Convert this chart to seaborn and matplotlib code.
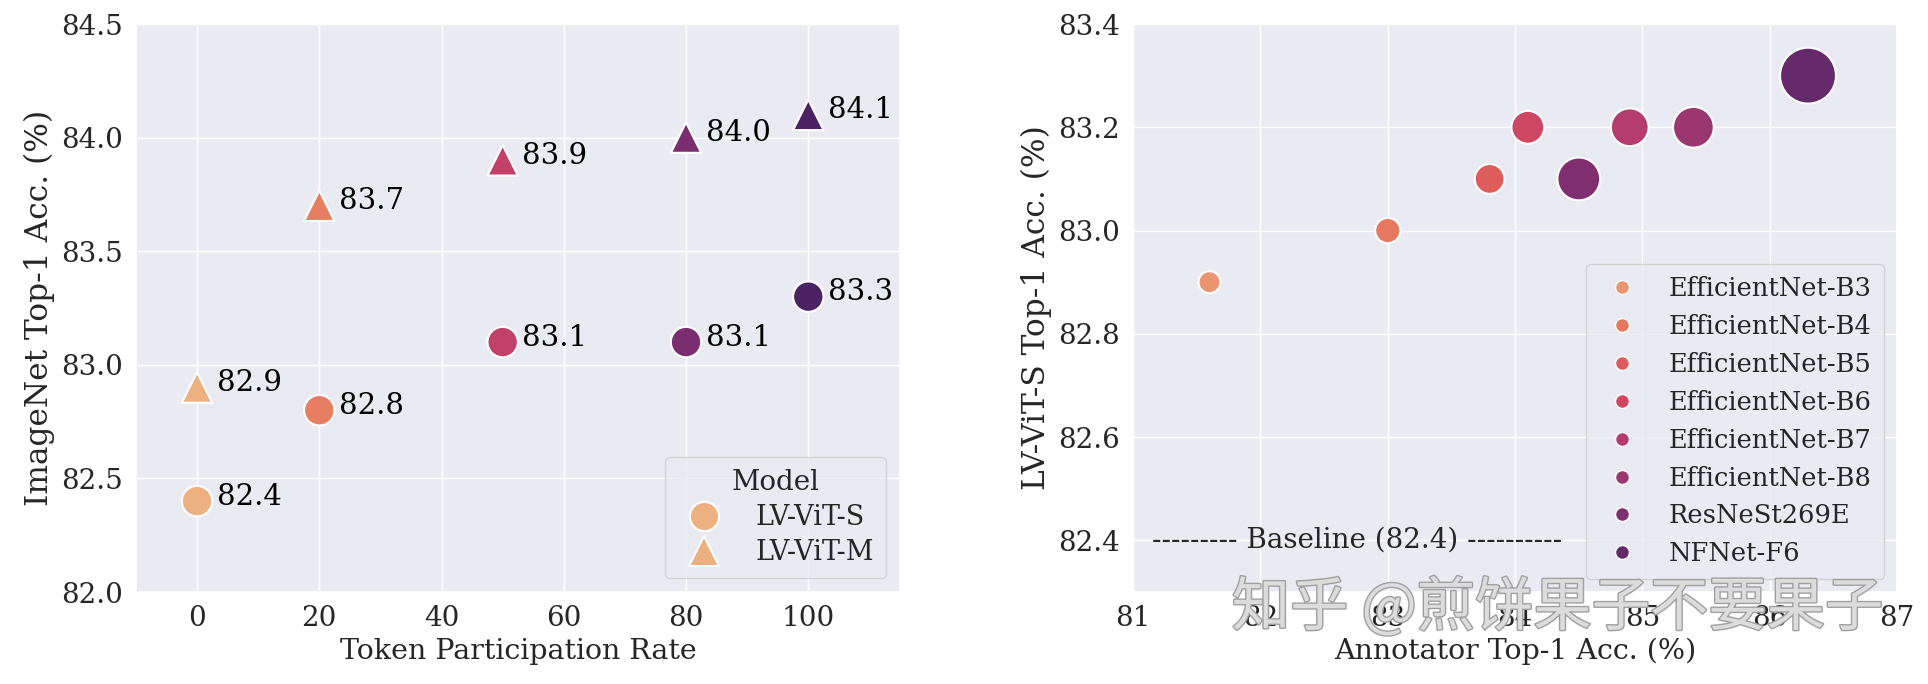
import numpy as np
import pandas as pd
import matplotlib
matplotlib.use("Agg")
import matplotlib.pyplot as plt
import matplotlib.patheffects as pe
from matplotlib.lines import Line2D
from matplotlib.ticker import FormatStrFormatter
import seaborn as sns

# ---------------- data ----------------
rates = [0, 20, 50, 80, 100]
vit_s = [82.4, 82.8, 83.1, 83.1, 83.3]
vit_m = [82.9, 83.7, 83.9, 84.0, 84.1]
model_names = ["LV-ViT-S", "LV-ViT-M"]

annotators = ["EfficientNet-B3", "EfficientNet-B4", "EfficientNet-B5", "EfficientNet-B6",
              "EfficientNet-B7", "EfficientNet-B8", "ResNeSt269E", "NFNet-F6"]
annot_acc = [81.6, 83.0, 83.8, 84.1, 84.9, 85.4, 84.5, 86.3]
student_acc = [82.9, 83.0, 83.1, 83.2, 83.2, 83.2, 83.1, 83.3]
baseline = 82.4

# ---------------- style ----------------
sns.set_theme(style="darkgrid")
plt.rcParams["font.family"] = ["DejaVu Serif", "Noto Sans CJK SC"]
FS_TICK = 20
FS_XLAB = 20.5
FS_YLAB = 22.5
FS_ANN = 21

fig = plt.figure(figsize=(19.28, 6.84), dpi=100)
ax1 = fig.add_axes([0.0705, 0.1345, 0.3963, 0.8304])
ax2 = fig.add_axes([0.5877, 0.1345, 0.3963, 0.8304])

# ---------------- left panel ----------------
df1 = pd.DataFrame({
    "rate": rates * 2,
    "acc": vit_s + vit_m,
    "Model": [model_names[0]] * len(rates) + [model_names[1]] * len(rates),
})
sns.scatterplot(data=df1, x="rate", y="acc", hue="rate", palette="flare",
                hue_norm=(min(rates), max(rates)), style="Model",
                markers={"LV-ViT-S": "o", "LV-ViT-M": "^"}, s=480,
                edgecolor="white", linewidth=1.5, legend=False, ax=ax1, zorder=3)
for r, a in zip(df1["rate"], df1["acc"]):
    ax1.text(r + 3.2, a + 0.02, f"{a:.1f}", fontsize=FS_ANN, va="center", ha="left",
             color="black")

ax1.set_xlim(-10, 115)
ax1.set_ylim(82.0, 84.5)
ax1.set_xticks([0, 20, 40, 60, 80, 100])
ax1.set_yticks(np.arange(82.0, 84.51, 0.5))
ax1.yaxis.set_major_formatter(FormatStrFormatter("%.1f"))
ax1.tick_params(labelsize=FS_TICK)
ax1.set_xlabel("Token Participation Rate", fontsize=FS_XLAB)
ax1.set_ylabel("ImageNet Top-1 Acc. (%)", fontsize=FS_YLAB)

c0 = sns.color_palette("flare", as_cmap=True)(0.0)
h1 = [Line2D([], [], marker="o", ls="", markersize=21, markerfacecolor=c0,
             markeredgecolor="white", markeredgewidth=1.5, label=model_names[0]),
      Line2D([], [], marker="^", ls="", markersize=21, markerfacecolor=c0,
             markeredgecolor="white", markeredgewidth=1.5, label=model_names[1])]
ax1.legend(handles=h1, title="Model", loc="lower right", fontsize=19.5,
           title_fontsize=20, borderpad=0.45, labelspacing=0.3, handletextpad=0.9)

# ---------------- right panel ----------------
df2 = pd.DataFrame({"Annotator": annotators, "x": annot_acc, "y": student_acc})
pal2 = sns.color_palette("flare", len(annotators))
size_map = {"EfficientNet-B3": 250, "EfficientNet-B4": 330, "EfficientNet-B5": 460,
            "EfficientNet-B6": 560, "EfficientNet-B7": 740, "EfficientNet-B8": 860,
            "ResNeSt269E": 950, "NFNet-F6": 1620}
sns.scatterplot(data=df2, x="x", y="y", hue="Annotator", palette=pal2,
                size="Annotator", sizes=size_map, edgecolor="white", linewidth=1.5,
                legend=False, ax=ax2, zorder=3)
ax2.text(81.15, baseline, "--------- Baseline (82.4) ----------", fontsize=20,
         va="center", ha="left")

ax2.set_xlim(81, 87)
ax2.set_ylim(82.3, 83.4)
ax2.set_xticks(range(81, 88))
ax2.set_yticks(np.arange(82.4, 83.41, 0.2))
ax2.yaxis.set_major_formatter(FormatStrFormatter("%.1f"))
ax2.tick_params(labelsize=FS_TICK)
ax2.set_xlabel("Annotator Top-1 Acc. (%)", fontsize=FS_XLAB)
ax2.set_ylabel("LV-ViT-S Top-1 Acc. (%)", fontsize=FS_YLAB)

h2 = [Line2D([], [], marker="o", ls="", markersize=10, markerfacecolor=c,
             markeredgecolor="white", markeredgewidth=1, label=n)
      for n, c in zip(annotators, pal2)]
ax2.legend(handles=h2, loc="lower right", fontsize=18.5, borderpad=0.5,
           labelspacing=0.5, handletextpad=0.9, handlelength=1.8)

# watermark
fig.text(0.808, 0.11, "知乎 @煎饼果子不要果子", fontsize=42, color="#dcdcdc",
         ha="center", va="center", family=["Noto Sans CJK SC", "DejaVu Sans"],
         path_effects=[pe.withStroke(linewidth=2, foreground="#a0a0a0")], zorder=10)

fig.savefig("out.png", dpi=100)
